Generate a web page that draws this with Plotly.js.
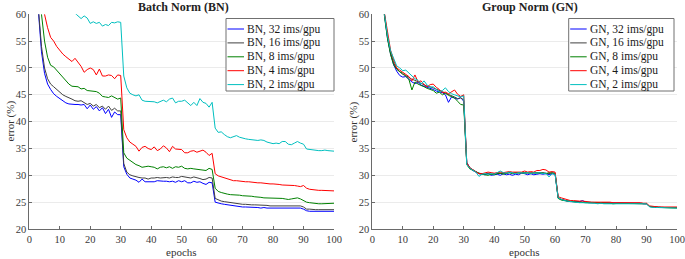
<!DOCTYPE html>
<html>
<head>
<meta charset="utf-8">
<script src="https://cdn.plot.ly/plotly-3.0.1.min.js"></script>
<style>html,body{margin:0;padding:0;background:#fff;}#chart{width:685px;height:259px;}</style>
</head>
<body>
<div id="chart"></div>
<script>
// epochs 1..100
const epochs = Array.from({length: 100}, (_, i) => i + 1);

const bnNames = ["BN, 32 ims/gpu", "BN, 16 ims/gpu", "BN, 8 ims/gpu", "BN, 4 ims/gpu", "BN, 2 ims/gpu"];
const gnNames = ["GN, 32 ims/gpu", "GN, 16 ims/gpu", "GN, 8 ims/gpu", "GN, 4 ims/gpu", "GN, 2 ims/gpu"];
const colors = ["#0000ff", "#404040", "#008000", "#ff0000", "#00bfbf"];

const bn32 = [80,68,60.5,53,49,47,46,45.2,44.7,44.3,43.9,43.5,43.3,43.2,43.2,43.2,43.1,43.2,42.4,43.1,42.3,42.8,42.0,42.6,41.5,42.3,40.8,41.8,41.3,41.3,
31.6,30.2,29.5,29.3,29.1,28.7,29.3,28.8,28.8,28.9,28.8,29.0,28.9,28.9,28.9,28.8,28.9,28.7,29.0,28.8,29.0,28.6,28.6,28.9,28.7,28.8,28.5,28.3,28.7,28.6,
25.0,24.8,24.7,24.6,24.5,24.4,24.3,24.2,24.2,24.1,24.1,24.1,24.0,24.0,24.0,23.9,24.0,23.9,23.9,23.9,23.9,23.8,23.9,23.9,23.8,23.8,23.8,23.8,23.9,23.7,
23.4,23.3,23.3,23.3,23.3,23.3,23.3,23.3,23.3,23.3];
const bn16 = [80,69,61,54,50,48,47,46.5,46,45.5,45,44.7,44.5,44.2,43.9,43.8,43.9,43.5,43.2,43.4,42.9,43.2,42.6,42.9,42.3,42.9,42.1,42.5,42.0,42.0,
32.2,30.6,30.1,29.9,29.7,29.6,29.5,29.5,29.3,29.5,29.5,29.6,29.5,29.6,29.6,29.5,29.7,29.6,29.6,29.8,29.7,29.6,29.5,29.7,29.6,29.4,29.2,29.3,29.6,29.5,
25.7,25.4,25.2,25.1,25.0,24.9,24.8,24.7,24.7,24.6,24.6,24.5,24.5,24.5,24.5,24.4,24.4,24.4,24.3,24.3,24.3,24.3,24.2,24.3,24.2,24.2,24.2,24.2,24.3,24.1,
23.7,23.7,23.6,23.6,23.6,23.6,23.6,23.6,23.6,23.6];
const bn8 = [85,74,66,60,55,52,50.5,50.2,49.6,49.0,48.3,47.6,47.0,46.6,46.6,46.5,46.1,46.2,45.8,45.7,45.7,45.6,45.3,44.7,44.6,44.5,44.8,44.5,44.2,44.4,
34.2,33.2,32.8,32.4,32.0,31.8,31.5,31.6,31.7,31.6,31.5,31.2,31.5,31.6,31.4,31.6,31.3,31.6,31.5,31.7,31.3,31.2,31.3,31.2,31.1,31.0,31.0,30.9,31.3,31.1,
27.6,27.0,26.8,26.6,26.5,26.4,26.4,26.3,26.3,26.2,26.2,26.1,26.1,26.0,26.0,25.9,25.8,25.8,25.8,25.7,25.8,25.7,25.7,25.6,25.5,25.6,25.7,25.8,25.6,25.3,
25.0,24.9,24.8,24.8,24.7,24.7,24.7,24.8,24.8,24.8];
const bn4 = [90,80,70,62,60,57.5,55.7,55.0,54.0,53.2,52.6,52.1,51.6,51.2,51.8,51.0,50.3,49.2,49.7,50.0,49.7,48.7,49.8,48.5,48.5,48.7,48.6,48.0,48.7,48.6,
38.5,37.0,36.2,35.8,35.4,34.5,35.2,35.4,35.0,34.8,35.3,34.6,34.9,35.5,35.1,34.4,35.4,34.9,34.9,34.8,34.2,34.2,34.5,34.6,34.3,34.5,34.7,34.3,33.7,34.1,
30.3,29.9,29.7,29.5,29.4,29.2,29.0,29.0,28.9,28.8,28.8,28.8,28.7,28.7,28.6,28.6,28.5,28.5,28.4,28.4,28.4,28.3,28.2,28.2,28.1,28.1,28.1,28.0,27.9,28.1,
27.6,27.4,27.3,27.3,27.2,27.2,27.2,27.1,27.1,27.1];
const bn2 = [95,88,80,75,71,68,66,64.5,63.5,62.5,61.8,61.2,60.8,60.5,60.2,59.6,59.2,59.7,59.3,58.3,58.6,58.3,58.5,57.8,58.1,57.9,58.5,58.4,58.6,58.5,
48.5,46.3,45.3,45.0,44.8,45.0,44.0,43.8,43.8,43.7,43.7,43.5,43.8,44.0,43.7,44.2,44.4,43.5,43.8,43.8,44.0,43.5,43.0,43.6,43.0,44.3,43.6,43.4,42.7,43.6,
38.8,38.0,38.1,37.6,37.2,37.0,37.2,37.4,37.1,36.9,36.8,36.7,36.6,36.6,36.5,36.6,36.5,36.2,36.1,35.9,36.0,35.9,36.3,36.3,35.8,35.7,36.0,36.3,36.0,35.8,
34.9,34.8,34.7,34.7,34.6,34.6,34.7,34.6,34.6,34.5];

const gn32 = [85,72,65,59.8,55.5,52.6,50.6,49.4,48.6,48.3,48.4,47.9,47.4,47.1,47.3,46.8,46.6,46.4,46.3,46.0,45.7,45.5,45.4,45.0,43.6,44.6,44.4,44.2,44.5,43.8,
32.4,31.4,30.9,30.6,30.3,30.2,30.1,30.3,30.0,30.1,30.2,30.0,30.3,30.1,30.2,30.0,30.2,30.1,30.4,30.3,30.1,30.3,30.1,30.2,30.3,30.2,30.3,30.1,30.3,30.2,
25.8,25.5,25.3,25.2,25.1,25.1,25.0,25.1,25.3,25.0,24.9,24.9,24.9,24.9,24.8,24.9,24.9,24.8,24.8,24.8,24.8,24.8,24.9,24.8,24.8,24.8,24.8,24.8,24.7,24.7,
24.2,24.1,24.1,24.0,24.0,24.0,24.0,24.0,24.0,24.0];
const gn16 = [85,72,65,60,55.8,52.8,51.0,49.8,49.2,48.8,48.6,48.2,47.9,47.7,47.4,47.2,46.9,46.6,46.5,46.3,46.0,45.8,45.6,45.3,45.1,44.9,44.6,44.3,44.4,44.1,
32.3,31.4,31.0,30.7,30.4,30.3,30.2,30.4,30.2,30.3,30.3,30.4,30.3,30.4,30.5,30.4,30.4,30.5,30.4,30.5,30.4,30.5,30.4,30.5,30.4,30.5,30.4,30.3,30.5,30.4,
25.8,25.5,25.4,25.2,25.2,25.1,25.1,25.0,25.0,25.0,24.9,24.9,24.9,24.9,24.9,24.9,24.9,24.8,24.8,24.8,24.8,24.8,24.8,24.8,24.8,24.8,24.8,24.8,24.8,24.7,
24.2,24.1,24.1,24.1,24.0,24.0,24.0,24.0,24.0,24.0];
const gn8 = [85,72,64.5,59.6,55.4,52.5,50.6,49.8,49.3,49.0,48.5,47.9,45.9,47.4,47.0,46.8,46.5,46.2,46.0,45.8,45.3,45.5,45.0,45.3,44.9,44.6,44.4,43.8,43.2,43.1,
32.0,31.2,30.9,30.6,30.4,30.2,30.1,30.0,30.2,30.1,30.3,30.4,30.2,30.4,30.5,30.3,30.5,30.4,30.5,30.4,30.5,30.3,30.5,30.4,30.5,30.4,30.3,30.5,30.4,30.3,
25.7,25.4,25.3,25.2,25.1,25.0,25.0,25.0,24.9,24.9,24.9,24.9,24.8,24.8,24.8,24.8,24.8,24.8,24.7,24.8,24.8,24.8,24.8,24.8,24.7,24.7,24.8,24.8,24.7,24.7,
24.2,24.1,24.0,24.0,24.0,24.0,23.9,23.9,23.9,23.9];
const gn4 = [86,73,65,60.2,56.3,53.3,51.5,50.0,49.6,49.2,48.9,48.4,47.6,48.7,47.4,47.6,46.9,46.5,46.9,47.0,46.4,46.0,45.4,45.5,45.2,45.5,45.9,45.1,44.7,45.0,
32.3,31.4,31.0,30.6,30.3,30.3,30.4,30.6,30.5,30.4,30.5,30.6,30.5,30.6,30.7,30.6,30.6,30.7,30.6,30.8,30.6,30.7,30.6,30.9,30.9,31.1,31.0,30.6,30.7,30.6,
26.0,25.8,25.6,25.5,25.3,25.3,25.2,25.2,25.2,25.1,25.1,25.0,25.0,25.0,25.1,25.1,25.0,25.0,24.9,24.9,25.0,25.0,25.0,24.9,24.9,24.9,24.9,24.9,24.8,24.8,
24.3,24.2,24.2,24.1,24.1,24.1,24.1,24.1,24.1,24.1];
const gn2 = [85,72,64.5,60.0,56.0,53.2,51.8,50.4,50.0,49.5,49.6,49.0,48.5,48.0,47.7,47.0,47.6,46.8,46.4,46.5,46.0,45.6,45.8,46.3,45.6,45.2,45.0,44.8,44.6,44.8,
32.0,31.3,30.9,30.6,29.8,30.2,30.3,30.2,30.3,30.2,30.5,30.8,30.5,30.4,30.6,30.5,30.3,30.5,30.4,30.4,30.5,30.3,30.5,30.4,30.5,30.3,30.4,29.7,30.3,30.2,
25.8,25.5,25.3,25.2,25.1,25.0,24.9,24.9,24.9,24.9,24.8,24.8,24.8,24.7,24.8,24.7,24.7,24.7,24.7,24.7,24.7,24.7,24.7,24.7,24.7,24.7,24.7,24.7,24.7,24.7,
24.1,24.0,24.0,24.0,24.0,24.0,24.0,23.9,23.9,23.9];

const bnSeries = [bn32, bn16, bn8, bn4, bn2];
const gnSeries = [gn32, gn16, gn8, gn4, gn2];

const W = 685, H = 259;
const FONT = "Liberation Serif";
const traces = [];
bnSeries.forEach((ys, i) => traces.push({
  x: epochs, y: ys, type: "scatter", mode: "lines", name: bnNames[i],
  line: {color: colors[i], width: 1}, xaxis: "x", yaxis: "y", showlegend: false
}));
gnSeries.forEach((ys, i) => traces.push({
  x: epochs, y: ys, type: "scatter", mode: "lines", name: gnNames[i],
  line: {color: colors[i], width: 1}, xaxis: "x2", yaxis: "y2", showlegend: false
}));

const tickFont = {family: FONT, size: 10.5, color: "#3a3a3a"};
const xax = (dom, anchor) => ({
  domain: dom, anchor: anchor, range: [0, 100], dtick: 10, tick0: 0,
  showgrid: false, zeroline: false, showline: true, linecolor: "#6a6a6a", linewidth: 1,
  ticks: "inside", ticklen: 3, tickcolor: "#6a6a6a", ticklabeloverflow: "allow",
  tickfont: tickFont, fixedrange: true
});
const yax = (anchor) => ({
  domain: [30 / H, 1 - 14.3 / H], anchor: anchor, range: [20, 60], dtick: 5, tick0: 20,
  showgrid: true, gridcolor: "#ebebeb", gridwidth: 1, zeroline: false,
  showline: true, linecolor: "#6a6a6a", linewidth: 1,
  ticks: "inside", ticklen: 3, tickcolor: "#6a6a6a", ticklabeloverflow: "allow",
  tickfont: tickFont, fixedrange: true
});

const px = (x) => x / W, py = (y) => 1 - y / H;
const ann = (text, x, y, opts) => Object.assign({
  text: text, x: px(x), y: py(y), xref: "paper", yref: "paper",
  showarrow: false, xanchor: "center", yanchor: "middle",
  font: {family: FONT, size: 11, color: "#333"}
}, opts || {});

const annotations = [
  ann("<b>Batch Norm (BN)</b>", 183.7, 7, {font: {family: FONT, size: 12, color: "#222"}}),
  ann("<b>Group Norm (GN)</b>", 530, 7, {font: {family: FONT, size: 12, color: "#222"}}),
  ann("epochs", 181.5, 252),
  ann("epochs", 524.5, 252),
  ann("error (%)", 10, 121.5, {textangle: -90}),
  ann("error (%)", 353, 121.5, {textangle: -90})
];
const shapes = [];

// legend boxes (drawn in paper space)
const legendBoxes = [{names: bnNames, left: 226, right: 334}, {names: gnNames, left: 568.7, right: 674}];
const LEG_TOP = 18.5, LEG_BOTTOM = 91, ROW0 = 29, ROWH = 13.9;
legendBoxes.forEach(lb => {
  shapes.push({type: "rect", xref: "paper", yref: "paper",
    x0: px(lb.left), x1: px(lb.right), y0: py(LEG_BOTTOM), y1: py(LEG_TOP),
    fillcolor: "#ffffff", line: {color: "#707070", width: 1}, layer: "above"});
  lb.names.forEach((nm, i) => {
    const yy = ROW0 + i * ROWH;
    shapes.push({type: "line", xref: "paper", yref: "paper",
      x0: px(lb.left + 1.5), x1: px(lb.left + 18), y0: py(yy), y1: py(yy),
      line: {color: colors[i], width: 1}, layer: "above"});
    annotations.push(ann(nm, lb.left + 19, yy, {xanchor: "left",
      font: {family: FONT, size: 11.5, color: "#1a1a1a"}}));
  });
});

const layout = {
  width: W, height: H, margin: {l: 0, r: 0, t: 0, b: 0},
  paper_bgcolor: "#fff", plot_bgcolor: "#fff",
  showlegend: false,
  xaxis: xax([29.3 / W, 334 / W], "y"),
  yaxis: yax("x"),
  xaxis2: xax([372.3 / W, 677 / W], "y2"),
  yaxis2: yax("x2"),
  shapes: shapes,
  annotations: annotations
};

Plotly.newPlot("chart", traces, layout, {staticPlot: true, displayModeBar: false});
</script>
</body>
</html>
